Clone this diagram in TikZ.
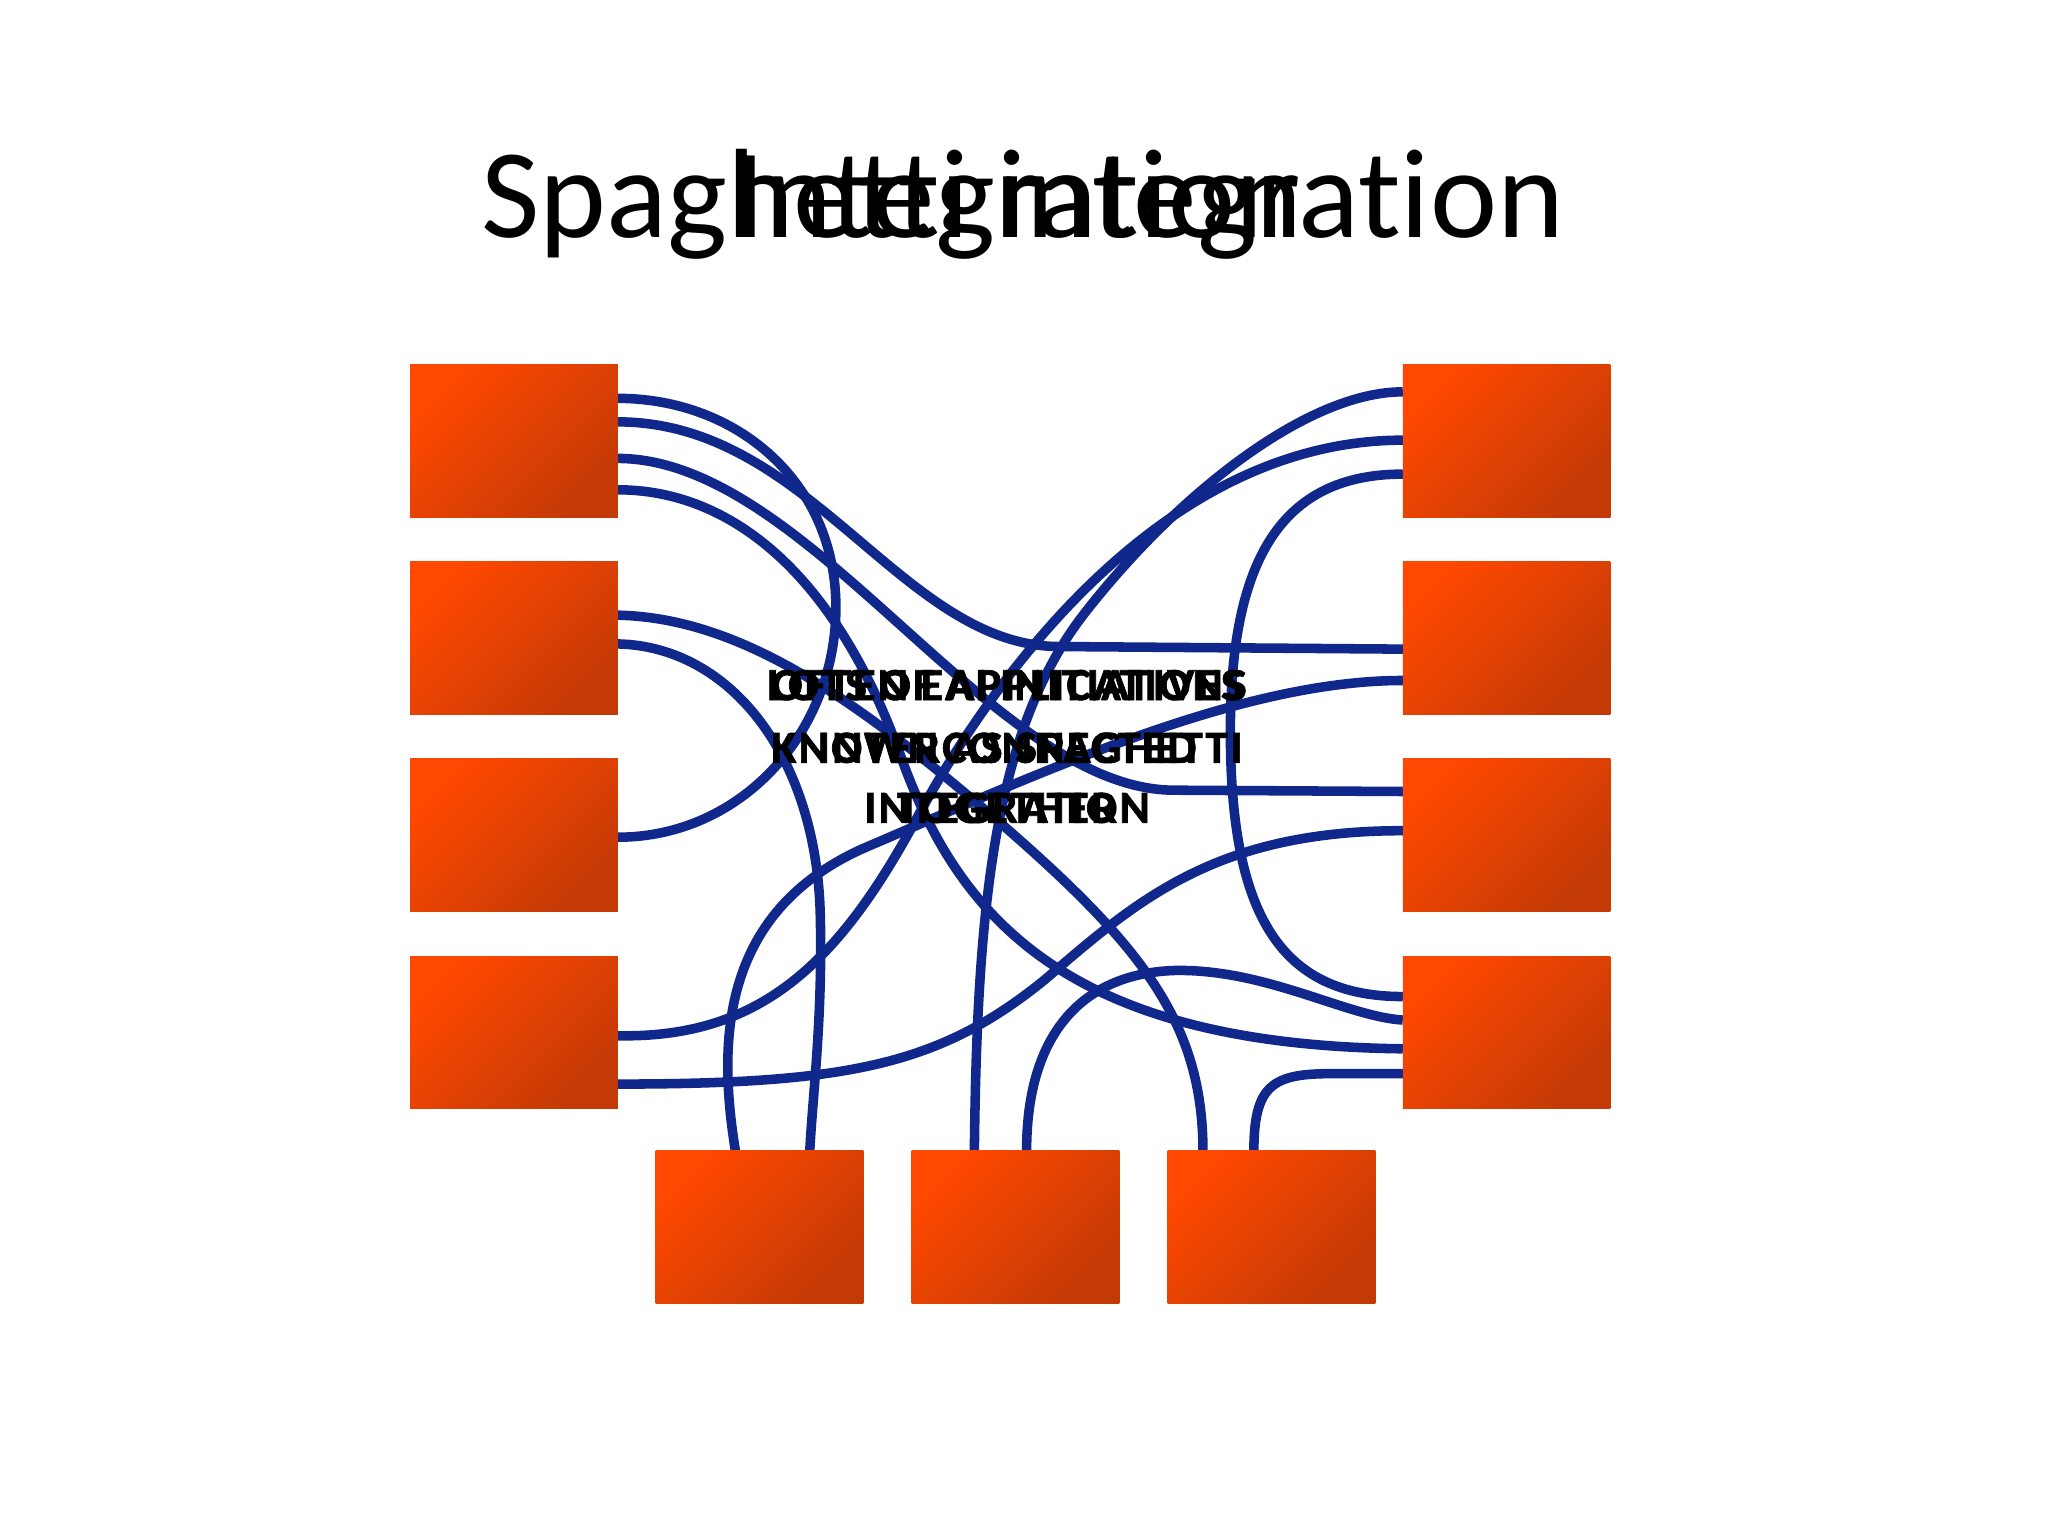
\documentclass[tikz,border=0pt]{standalone}
\usepackage{fontspec}
\setmainfont{Carlito}[Ligatures=NoCommon]
\newfontfamily\capfont{Carlito Bold}[Ligatures=NoCommon,LetterSpace=5,FakeBold=1.5]
\definecolor{boxA}{RGB}{255,72,0}
\definecolor{boxB}{RGB}{196,58,6}
\definecolor{wireblue}{RGB}{16,40,140}
\begin{document}
\begin{tikzpicture}[x=0.013cm,y=-0.013cm,
  box/.style={draw=none, inner sep=0pt, minimum width=2.067cm, minimum height=1.521cm,
    top color=boxA, bottom color=boxB, shading angle=45},
  wire/.style={draw=wireblue, line width=2.7pt, line join=round},
  ttl/.style={font=\fontsize{36}{42}\selectfont, anchor=base, inner sep=0pt},
  captxt/.style={font=\capfont\fontsize{13}{16}\selectfont, anchor=base, inner sep=0pt}]
\useasboundingbox[fill=white] (0,0) rectangle (1568,1176);

% title (two overlapping texts)
\node[ttl] (t1) at (783,182) {Spaghetti integration};
\node[ttl] (t2) at (779,182) {Integration};

% endpoints
\coordinate (l1) at (473,305); \coordinate (l2) at (473,323);
\coordinate (l3) at (473,351); \coordinate (l4) at (473,375);
\coordinate (l5) at (473,471); \coordinate (l6) at (473,493);
\coordinate (l7) at (473,641); \coordinate (l8) at (473,793);
\coordinate (l9) at (473,830);
\coordinate (r1) at (1074,300); \coordinate (r2) at (1074,337);
\coordinate (r3) at (1074,363); \coordinate (r4) at (1074,497);
\coordinate (r5) at (1074,521); \coordinate (r6) at (1074,606);
\coordinate (r7) at (1074,636); \coordinate (r8) at (1074,763);
\coordinate (r9) at (1074,781); \coordinate (r10) at (1074,803);
\coordinate (r11) at (1074,822);
\coordinate (b1) at (563,881); \coordinate (b2) at (620,881);
\coordinate (b3) at (746,881); \coordinate (b4) at (786,881);
\coordinate (b5) at (921,881); \coordinate (b6) at (960,881);

% wires
\draw[wire] (l1) .. controls (565,305) and (640,370) .. (640,465) .. controls (640,560) and (568,641) .. (l7);
\draw[wire] (l6) .. controls (560,495) and (625,580) .. (628,700) .. controls (630,780) and (622,840) .. (b2);
\draw[wire] (l2) .. controls (620,323) and (690,494) .. (810,495) -- (r4);
\draw[wire] (l3) .. controls (620,351) and (760,606) .. (900,605) -- (r6);
\draw[wire] (l4) .. controls (560,375) and (640,440) .. (690,580) .. controls (735,705) and (820,800) .. (r10);
\draw[wire] (l5) .. controls (570,473) and (660,540) .. (760,625) .. controls (870,720) and (921,780) .. (b5);
\draw[wire] (l8) .. controls (580,795) and (640,740) .. (700,630) .. controls (770,500) and (900,337) .. (r2);
\draw[wire] (l9) .. controls (650,830) and (720,815) .. (800,750) .. controls (870,690) and (930,636) .. (r7);
\draw[wire] (b1) .. controls (550,800) and (550,700) .. (660,650) .. controls (800,590) and (950,521) .. (r5);
\draw[wire] (b3) .. controls (748,700) and (760,560) .. (830,470) .. controls (900,380) and (1000,300) .. (r1);
\draw[wire] (b4) .. controls (786,790) and (830,745) .. (900,743) .. controls (970,742) and (1030,778) .. (r9);
\draw[wire] (b6) .. controls (960,830) and (975,822) .. (1020,822) -- (r11);
\draw[wire] (r3) .. controls (980,363) and (942,430) .. (942,560) .. controls (942,700) and (980,763) .. (r8);

% boxes
\node[box] (LB1) at (393.5,337.5) {};
\node[box] (LB2) at (393.5,488.5) {};
\node[box] (LB3) at (393.5,639.5) {};
\node[box] (LB4) at (393.5,790.5) {};
\node[box] (RB1) at (1153.5,337.5) {};
\node[box] (RB2) at (1153.5,488.5) {};
\node[box] (RB3) at (1153.5,639.5) {};
\node[box] (RB4) at (1153.5,790.5) {};
\node[box] (BB1) at (581.5,939.5) {};
\node[box] (BB2) at (777.5,939.5) {};
\node[box] (BB3) at (973.5,939.5) {};

% overlapping centre captions
\node[captxt] (ta1) at (771,536) {LOTS OF APPLICATIONS};
\node[captxt] (ta2) at (771,584) {INTERCONNECTED};
\node[captxt] (ta3) at (771,630) {TOGETHER};
\node[captxt] (tb1) at (771,536) {OFTEN EAI INITIATIVES};
\node[captxt] (tb2) at (771,584) {KNOWN AS SPAGHETTI};
\node[captxt] (tb3) at (771,630) {INTEGRATION};
\end{tikzpicture}
\end{document}
